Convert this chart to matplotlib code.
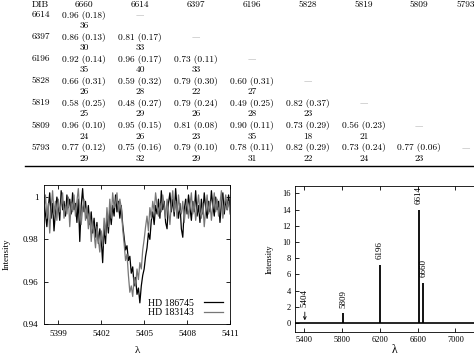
import numpy as np
import matplotlib
matplotlib.use("Agg")
import matplotlib.pyplot as plt
from matplotlib.lines import Line2D

# ---- table data ----
dibs = ["6660", "6614", "6397", "6196", "5828", "5819", "5809", "5793"]
row_dibs = ["6614", "6397", "6196", "5828", "5819", "5809", "5793"]
corr = [
    ["0.96 (0.18)"],
    ["0.86 (0.13)", "0.81 (0.17)"],
    ["0.92 (0.14)", "0.96 (0.17)", "0.73 (0.11)"],
    ["0.66 (0.31)", "0.59 (0.32)", "0.79 (0.30)", "0.60 (0.31)"],
    ["0.58 (0.25)", "0.48 (0.27)", "0.79 (0.24)", "0.49 (0.25)", "0.82 (0.37)"],
    ["0.96 (0.10)", "0.95 (0.15)", "0.81 (0.08)", "0.90 (0.11)", "0.73 (0.29)", "0.56 (0.23)"],
    ["0.77 (0.12)", "0.75 (0.16)", "0.79 (0.10)", "0.78 (0.11)", "0.82 (0.29)", "0.73 (0.24)", "0.77 (0.06)"],
]
counts = [
    ["36"],
    ["30", "33"],
    ["35", "40", "33"],
    ["26", "28", "22", "27"],
    ["25", "29", "26", "28", "23"],
    ["24", "26", "23", "35", "18", "21"],
    ["29", "32", "29", "31", "22", "24", "23"],
]

# ---- spectrum data (left panel) ----
wl_start, wl_stop = 5398.0, 5411.0
hd186745 = [
    0.998, 0.992, 0.986, 0.995, 1.002, 0.990, 0.997, 0.984, 0.993, 1.000,
    0.996, 0.989, 1.003, 0.994, 0.998, 0.991, 1.001, 0.995, 0.999, 0.992,
    1.002, 0.994, 0.997, 0.988, 0.999, 0.979, 0.996, 1.004, 0.993, 0.998,
    0.990, 0.996, 0.987, 0.993, 0.983, 0.990, 0.981, 0.988, 0.978, 0.985,
    0.980, 0.969, 0.986, 0.978, 0.991, 0.983, 0.994, 0.987, 0.996, 0.991,
    1.001, 0.993, 0.998, 0.990, 0.996, 0.987, 0.981, 0.975, 0.977, 0.970,
    0.972, 0.964, 0.967, 0.958, 0.962, 0.954, 0.957, 0.950, 0.958, 0.963,
    0.966, 0.972, 0.976, 0.983, 0.980, 0.989, 0.993, 0.987, 0.996, 0.992,
    0.999, 0.990, 1.003, 0.994, 0.998, 0.988, 0.985, 0.997, 1.002, 0.993,
    0.999, 0.991, 1.004, 0.995, 0.990, 0.997, 0.985, 0.981, 0.994, 0.999,
    0.992, 1.001, 0.995, 0.989, 0.998, 0.993, 1.003, 0.991, 0.996, 0.988,
    0.999, 0.992, 1.002, 0.995, 0.990, 0.998, 0.993, 1.003, 0.996, 0.991,
    1.000, 0.994, 0.998, 0.988, 0.997, 1.002, 0.992, 0.999, 0.994, 1.001,
    0.995,
]
hd183143 = [
    0.994, 1.001, 0.990, 0.997, 0.983, 0.995, 1.003, 0.992, 0.998, 0.989,
    0.999, 0.993, 0.997, 1.002, 0.990, 0.996, 0.992, 1.000, 0.986, 0.997,
    0.993, 1.001, 0.991, 0.998, 1.004, 0.993, 0.987, 0.995, 0.999, 0.989,
    0.995, 0.985, 0.992, 0.979, 0.988, 0.983, 0.976, 0.986, 0.980, 0.974,
    0.984, 0.977, 0.990, 0.982, 0.995, 0.986, 0.999, 0.990, 1.002, 0.995,
    0.997, 1.002, 0.993, 0.999, 0.995, 0.985, 0.978, 0.970, 0.973, 0.963,
    0.955, 0.958, 0.953, 0.962, 0.958, 0.966, 0.961, 0.969, 0.966, 0.975,
    0.980, 0.986, 0.991, 0.984, 0.995, 0.990, 0.998, 0.993, 1.002, 0.996,
    0.991, 0.997, 0.993, 1.001, 0.996, 0.990, 0.999, 0.994, 0.987, 0.997,
    1.003, 0.993, 0.998, 0.990, 1.001, 0.994, 0.992, 0.998, 0.988, 0.995,
    0.999, 0.990, 0.996, 1.002, 0.992, 0.998, 0.989, 0.995, 1.001, 0.993,
    0.990, 0.997, 0.986, 0.994, 1.001, 0.992, 0.998, 0.989, 0.996, 1.002,
    0.993, 0.999, 0.991, 0.997, 1.003, 0.990, 0.996, 1.001, 0.994, 0.998,
    0.992,
]

# ---- DIB strengths (right panel) ----
line_wl = [5809, 6196, 6614, 6660]
line_str = [1.2, 7.2, 14.0, 5.0]
arrow_wl = 5404
arrow_len = 1.7

W, H = 474, 356
fig = plt.figure(figsize=(W / 100, H / 100), dpi=100)

def fx(x):
    return x / W

def fy(y):
    return 1 - y / H

tfont = dict(family=["cmr10", "DejaVu Serif"], fontsize=6.8)
col_x = [84, 140, 196, 252, 308, 364, 419, 466]
fig.text(fx(32), fy(5), "DIB", ha="left", va="center", **tfont)
for cx, d in zip(col_x, dibs):
    fig.text(fx(cx), fy(5), d, ha="center", va="center", **tfont)
row_y = [15, 37, 59, 81, 103, 126, 148]
for i, (ry, rd) in enumerate(zip(row_y, row_dibs)):
    fig.text(fx(32), fy(ry), rd, ha="left", va="center", **tfont)
    for j, (v, n) in enumerate(zip(corr[i], counts[i])):
        fig.text(fx(col_x[j]), fy(ry), v, ha="center", va="center", **tfont)
        fig.text(fx(col_x[j]), fy(ry + 11), n, ha="center", va="center", **tfont)
    fig.text(fx(col_x[i + 1]), fy(ry), "\u2014", ha="center", va="center",
             color="#aaaaaa", family="DejaVu Serif", fontsize=6)
fig.add_artist(Line2D([fx(25), fx(474)], [fy(166), fy(166)], color="black", lw=1.0))

pfont = "Liberation Serif"

# left panel
ax1 = fig.add_axes([fx(44), fy(324), fx(230 - 44), (324 - 185) / H])
wl = np.linspace(wl_start, wl_stop, len(hd186745))
ax1.plot(wl, hd186745, color="black", lw=0.9, label="HD 186745")
ax1.plot(wl, hd183143, color="#777777", lw=0.9, label="HD 183143")
ax1.set_xlim(5398, 5411)
ax1.set_ylim(0.94, 1.0057)
ax1.set_xticks([5399, 5402, 5405, 5408, 5411])
ax1.set_yticks([0.94, 0.96, 0.98, 1.0])
ax1.set_yticklabels(["0.94", "0.96", "0.98", "1"])
ax1.tick_params(direction="in", top=True, right=True, length=3, width=0.6,
                labelsize=6.5, pad=4)
for lab in ax1.get_xticklabels() + ax1.get_yticklabels():
    lab.set_family(pfont)
ax1.set_ylabel("Intensity", family=pfont, fontsize=6.5, labelpad=9)
ax1.set_xlabel("\u03bb", family=pfont, fontsize=8, labelpad=6)
leg = ax1.legend(loc="lower right", frameon=False, markerfirst=False,
                 prop=dict(family=pfont, size=7), handlelength=2.0,
                 handletextpad=1.0, labelspacing=0.05, borderaxespad=0.3)
for sp in ax1.spines.values():
    sp.set_linewidth(0.6)

# right panel
ax2 = fig.add_axes([fx(295), fy(332), 2100 * 0.0944 / W, (332 - 186) / H])
ax2.set_xlim(5300, 7400)
ax2.set_ylim(-1.1, 16.9)
ax2.axhline(0, color="black", lw=1.2)
ax2.vlines(line_wl, 0, line_str, color="black", lw=1.3)
for w, s in zip(line_wl, line_str):
    ax2.text(w, s + 0.7, str(w), rotation=90, ha="center", va="bottom",
             family=pfont, fontsize=6.5)
ax2.annotate("", xy=(arrow_wl, 0), xytext=(arrow_wl, arrow_len),
             arrowprops=dict(arrowstyle="->", lw=0.6, color="black",
                             mutation_scale=5))
ax2.text(arrow_wl, arrow_len + 0.3, str(arrow_wl), rotation=90, ha="center",
         va="bottom", family=pfont, fontsize=6.5)
ax2.set_xticks([5400, 5800, 6200, 6600, 7000])
ax2.set_yticks(range(0, 17, 2))
ax2.tick_params(direction="in", top=True, right=True, length=3, width=0.6,
                labelsize=6, pad=3)
for lab in ax2.get_xticklabels() + ax2.get_yticklabels():
    lab.set_family(pfont)
ax2.set_ylabel("Intensity", family=pfont, fontsize=6, labelpad=6)
ax2.set_xlabel("\u03bb", family=pfont, fontsize=8.5, labelpad=0)
for sp in ax2.spines.values():
    sp.set_linewidth(0.6)

fig.savefig("out.png", dpi=100)
